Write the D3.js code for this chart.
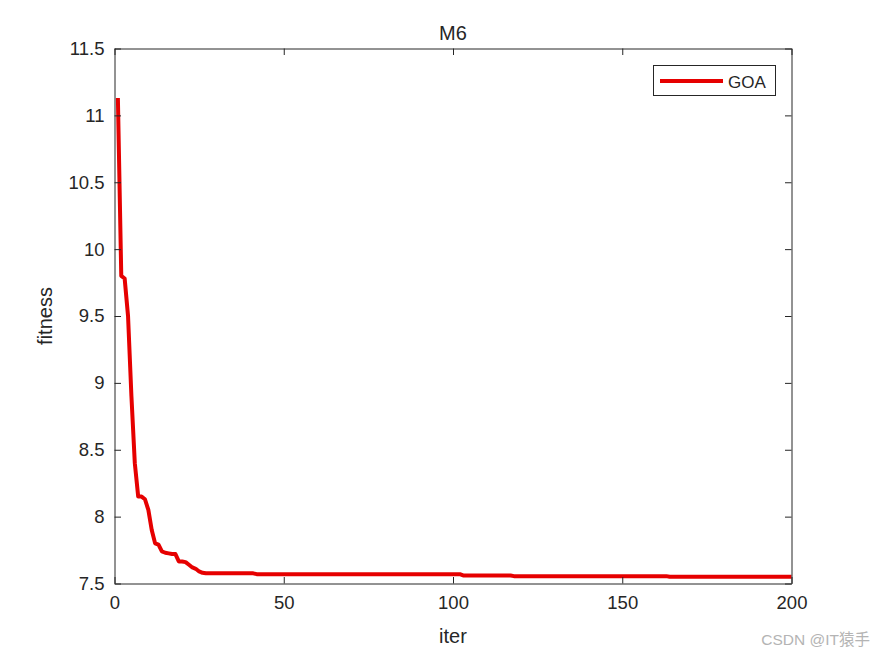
<!DOCTYPE html>
<html>
<head>
<meta charset="utf-8">
<script src="https://cdn.jsdelivr.net/npm/d3@7"></script>
<style>
  html, body { margin: 0; padding: 0; background: #fff; }
  svg { display: block; }
  text { font-family: "Liberation Sans", Arial, sans-serif; fill: #262626; }
</style>
</head>
<body>
<script>
// ---- data ----
const title = "M6";
const xLabel = "iter";
const yLabel = "fitness";
const seriesName = "GOA";
const xTicks = [0, 50, 100, 150, 200];
const yTicks = [7.5, 8, 8.5, 9, 9.5, 10, 10.5, 11, 11.5];
const fitness = [
  11.13, 9.80, 9.78, 9.50, 8.90, 8.40, 8.15, 8.15, 8.13, 8.05,
  7.90, 7.80, 7.79, 7.74, 7.73, 7.725, 7.72, 7.72, 7.665, 7.665,
  7.66, 7.64, 7.62, 7.61, 7.59, 7.58, 7.576, 7.576, 7.576, 7.576,
  7.576, 7.576, 7.576, 7.576, 7.576, 7.576, 7.576, 7.576, 7.576, 7.576,
  7.576, 7.570, 7.570, 7.570, 7.570, 7.570, 7.570, 7.570, 7.570, 7.570,
  7.570, 7.570, 7.570, 7.570, 7.570, 7.570, 7.570, 7.570, 7.570, 7.570,
  7.570, 7.570, 7.570, 7.570, 7.570, 7.570, 7.570, 7.570, 7.570, 7.570,
  7.570, 7.570, 7.570, 7.570, 7.570, 7.570, 7.570, 7.570, 7.570, 7.570,
  7.570, 7.570, 7.570, 7.570, 7.570, 7.570, 7.570, 7.570, 7.570, 7.570,
  7.570, 7.570, 7.570, 7.570, 7.570, 7.570, 7.570, 7.570, 7.570, 7.570,
  7.570, 7.570, 7.560, 7.560, 7.560, 7.560, 7.560, 7.560, 7.560, 7.560,
  7.560, 7.560, 7.560, 7.560, 7.560, 7.560, 7.560, 7.555, 7.555, 7.555,
  7.555, 7.555, 7.555, 7.555, 7.555, 7.555, 7.555, 7.555, 7.555, 7.555,
  7.555, 7.555, 7.555, 7.555, 7.555, 7.555, 7.555, 7.555, 7.555, 7.555,
  7.555, 7.555, 7.555, 7.555, 7.555, 7.555, 7.555, 7.555, 7.555, 7.555,
  7.555, 7.555, 7.555, 7.555, 7.555, 7.555, 7.555, 7.555, 7.555, 7.555,
  7.555, 7.555, 7.555, 7.550, 7.550, 7.550, 7.550, 7.550, 7.550, 7.550,
  7.550, 7.550, 7.550, 7.550, 7.550, 7.550, 7.550, 7.550, 7.550, 7.550,
  7.550, 7.550, 7.550, 7.550, 7.550, 7.550, 7.550, 7.550, 7.550, 7.550,
  7.550, 7.550, 7.550, 7.550, 7.550, 7.550, 7.550, 7.550, 7.550, 7.550
];
const iters = fitness.map((d, i) => i + 1);
const watermark = "CSDN @IT猿手";

// ---- layout ----
const W = 875, H = 656;
const L = 114.5, R = 791.5, T = 48.5, B = 583.5;
const axisColor = "#262626";
const lineColor = "#e60000";

const svg = d3.select("body").append("svg").attr("width", W).attr("height", H);

const x = d3.scaleLinear().domain([0, 200]).range([L, R]);
const y = d3.scaleLinear().domain([7.5, 11.5]).range([B, T]);

svg.append("rect").attr("x", L).attr("y", T).attr("width", R - L).attr("height", B - T)
  .attr("fill", "#fff");

const line = d3.line().x((d, i) => x(iters[i])).y(d => y(d));
svg.append("path").datum(fitness)
  .attr("d", line)
  .attr("fill", "none")
  .attr("stroke", lineColor)
  .attr("stroke-width", 4)
  .attr("stroke-linejoin", "round");

const tickLen = 6.5;
function styleAxis(g) {
  g.selectAll("path.domain").attr("stroke", axisColor).attr("stroke-width", 1);
  g.selectAll(".tick line").attr("stroke", axisColor).attr("stroke-width", 1);
  g.selectAll(".tick text").attr("fill", axisColor)
    .style("font-family", '"Liberation Sans", Arial, sans-serif')
    .style("font-size", "18.5px");
}
const fmt = d3.format("");
svg.append("g").attr("transform", `translate(0,${B})`)
  .call(d3.axisBottom(x).tickValues(xTicks).tickSizeInner(-tickLen).tickSizeOuter(0).tickPadding(12).tickFormat(fmt))
  .call(styleAxis);
svg.append("g").attr("transform", `translate(0,${T})`)
  .call(d3.axisTop(x).tickValues(xTicks).tickSizeInner(-tickLen).tickSizeOuter(0).tickFormat(""))
  .call(styleAxis);
svg.append("g").attr("transform", `translate(${L},0)`)
  .call(d3.axisLeft(y).tickValues(yTicks).tickSizeInner(-tickLen).tickSizeOuter(0).tickPadding(10).tickFormat(fmt))
  .call(styleAxis);
svg.append("g").attr("transform", `translate(${R},0)`)
  .call(d3.axisRight(y).tickValues(yTicks).tickSizeInner(-tickLen).tickSizeOuter(0).tickFormat(""))
  .call(styleAxis);

svg.append("text").attr("x", (L + R) / 2).attr("y", 40).attr("text-anchor", "middle")
  .style("font-size", "20px").text(title);
svg.append("text").attr("x", (L + R) / 2).attr("y", 643).attr("text-anchor", "middle")
  .style("font-size", "20px").text(xLabel);
svg.append("text").attr("transform", `translate(52,${(T + B) / 2}) rotate(-90)`)
  .attr("text-anchor", "middle").style("font-size", "20px").text(yLabel);

const lg = svg.append("g");
lg.append("rect").attr("x", 653.5).attr("y", 65.5).attr("width", 122).attr("height", 30)
  .attr("fill", "#fff").attr("stroke", axisColor).attr("stroke-width", 1);
lg.append("line").attr("x1", 660).attr("x2", 723).attr("y1", 81).attr("y2", 81)
  .attr("stroke", lineColor).attr("stroke-width", 4);
lg.append("text").attr("x", 728).attr("y", 87.5).style("font-size", "17px").text(seriesName);

svg.append("text").attr("x", 870).attr("y", 645).attr("text-anchor", "end")
  .style("font-size", "15.5px").style("fill", "#b4b4b4")
  .style("font-family", '"Liberation Sans", "Noto Sans CJK SC", sans-serif')
  .text(watermark);
</script>
</body>
</html>
